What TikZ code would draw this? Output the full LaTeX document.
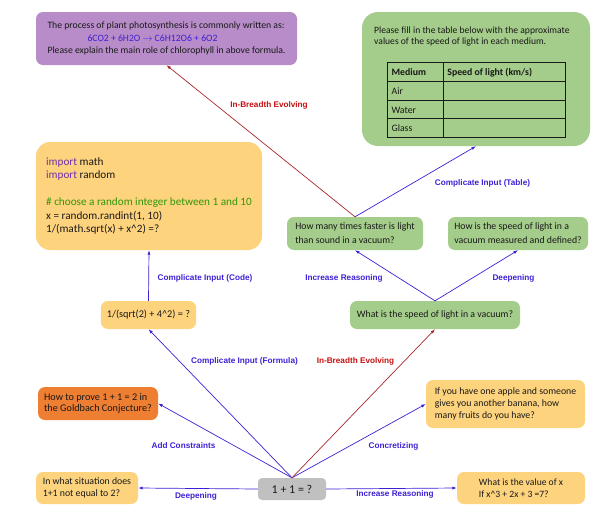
\documentclass[tikz,border=0pt]{standalone}
\usepackage{fontspec}
\setmainfont{Carlito}
\newfontfamily\labelfont{Liberation Sans}
\usepackage{array}
\usetikzlibrary{arrows.meta}

\definecolor{boxpurple}{RGB}{183,140,200}
\definecolor{boxgreen}{RGB}{164,204,138}
\definecolor{boxyellow}{RGB}{253,211,126}
\definecolor{boxorange}{RGB}{238,126,50}
\definecolor{boxgrey}{RGB}{192,192,192}
\definecolor{evoblue}{RGB}{62,32,212}
\definecolor{evored}{RGB}{196,16,16}
\definecolor{linered}{RGB}{168,40,44}
\definecolor{kwpurple}{RGB}{112,48,172}
\definecolor{cmtgreen}{RGB}{50,150,10}

\begin{document}
\begin{tikzpicture}[x=1pt, y=-1pt,
  box/.style={rounded corners=7pt, inner xsep=6pt, inner ysep=2pt, align=left, text=black!90, font=\fontsize{9.8}{11.7}\selectfont},
  greenbox/.style={box, fill=boxgreen, font=\fontsize{9.8}{14}\selectfont},
  yellowbox/.style={box, fill=boxyellow},
  orangebox/.style={box, fill=boxorange},
  purplebox/.style={box, fill=boxpurple},
  greybox/.style={box, fill=boxgrey, rounded corners=4pt, font=\fontsize{12}{14}\selectfont},
  lbl/.style={inner sep=0pt, font=\labelfont\bfseries\fontsize{8.2}{10}\selectfont},
  bluelbl/.style={lbl, text=evoblue},
  redlbl/.style={lbl, text=evored},
  blueedge/.style={draw=evoblue, line width=0.7pt, -{Latex[length=4.5pt, width=3.2pt]}},
  rededge/.style={draw=linered, line width=0.7pt, -{Latex[length=4.5pt, width=3.2pt]}}]

\useasboundingbox (0,0) rectangle (600,509);

\node[purplebox, minimum width=261pt, minimum height=53pt, font=\fontsize{9.7}{12.5}\selectfont] (photo) at (166.5,38.5) {The process of plant photosynthesis is commonly written as:\\ \hspace*{40pt}\textcolor{evoblue}{6CO2 + 6H2O $\rightarrow$ C6H12O6 + 6O2}\\ Please explain the main role of chlorophyll in above formula.};

\node[greenbox, rounded corners=16pt, minimum width=228pt, minimum height=134pt] (light) at (476,79) {};
\node[box, anchor=north west, inner sep=0pt, font=\fontsize{9.6}{11}\selectfont] (lightq) at (374,27) {Please fill in the table below with the approximate\\ values of the speed of light in each medium.};
\node[inner sep=0pt, text=black!90, font=\fontsize{9.8}{10.5}\selectfont] (lighttab) at (476.5,100) {\renewcommand\arraystretch{1.72}\setlength\tabcolsep{4pt}\setlength\arrayrulewidth{0.8pt}%
  \begin{tabular}{|p{47pt}|p{114pt}|}
    \hline
    \textbf{Medium} & \textbf{Speed of light (km/s)}\\ \hline
    Air & \\ \hline
    Water & \\ \hline
    Glass & \\ \hline
  \end{tabular}};

\node[yellowbox, rounded corners=14pt, minimum width=226pt, minimum height=108pt, font=\fontsize{11.2}{13.4}\selectfont] (code) at (149,196) {\textcolor{kwpurple}{import} math\\ \textcolor{kwpurple}{import} random\\[13.4pt] \textcolor{cmtgreen}{\# choose a random integer between 1 and 10}\\ x = random.randint(1, 10)\\ 1/(math.sqrt(x) + x\textasciicircum 2) =?};

\node[greenbox, minimum width=136pt, minimum height=33pt] (faster) at (355,233.5) {How many times faster is light\\ than sound in a vacuum?};
\node[greenbox, minimum width=140pt, minimum height=33pt] (measured) at (518,233.5) {How is the speed of light in a\\ vacuum measured and defined?};
\node[greenbox, minimum width=170pt, minimum height=28pt] (vacuum) at (435,315) {What is the speed of light in a vacuum?};
\node[yellowbox, minimum width=91pt, minimum height=28pt, font=\fontsize{10.3}{12}\selectfont] (formula) at (148.5,315) {1/(sqrt(2) + 4\textasciicircum 2) = ?};
\node[orangebox, minimum width=120pt, minimum height=33pt, font=\fontsize{10.2}{11.7}\selectfont] (goldbach) at (98,403.5) {How to prove 1 + 1 = 2 in\\ the Goldbach Conjecture?};
\node[yellowbox, minimum width=159pt, minimum height=48pt] (apple) at (505.5,404) {If you have one apple and someone\\ gives you another banana, how\\ many fruits do you have?};
\node[yellowbox, minimum width=102pt, minimum height=32pt] (situation) at (87,488) {In what situation does\\ 1+1 not equal to 2?};
\node[greybox, minimum width=68pt, minimum height=22pt] (root) at (292,489) {1 + 1 = ?};
\node[yellowbox, minimum width=128pt, minimum height=32pt, font=\fontsize{9.6}{11.7}\selectfont] (cubic) at (521,488) {What is the value of x\\ If x\textasciicircum 3 + 2x + 3 =7?};

\foreach \s/\t in {root.north/formula.south, root.north/goldbach.east, root.north/apple.west, root.west/situation.east, root.east/cubic.west, formula.north/code.south, vacuum.north/faster.south, vacuum.north/measured.south, faster.north/light.south}
  \draw[blueedge] (\s) -- (\t);
\foreach \s/\t in {root.north/vacuum.south, faster.north/photo.south}
  \draw[rededge] (\s) -- (\t);

\node[redlbl] (lblbreadthtop) at (269,105) {In-Breadth Evolving};
\node[bluelbl] (lbltable) at (482.5,183) {Complicate Input (Table)};
\node[bluelbl] (lblcode) at (205,278) {Complicate Input (Code)};
\node[bluelbl] (lblreasonmid) at (344,278) {Increase Reasoning};
\node[bluelbl] (lbldeepmid) at (513.5,278) {Deepening};
\node[bluelbl] (lblformula) at (244.5,361) {Complicate Input (Formula)};
\node[redlbl] (lblbreadth) at (355.5,361) {In-Breadth Evolving};
\node[bluelbl] (lblconstr) at (183.5,446) {Add Constraints};
\node[bluelbl] (lblconcr) at (393.5,446) {Concretizing};
\node[bluelbl] (lbldeep) at (196,496) {Deepening};
\node[bluelbl] (lblreason) at (395,494) {Increase Reasoning};

\end{tikzpicture}
\end{document}
